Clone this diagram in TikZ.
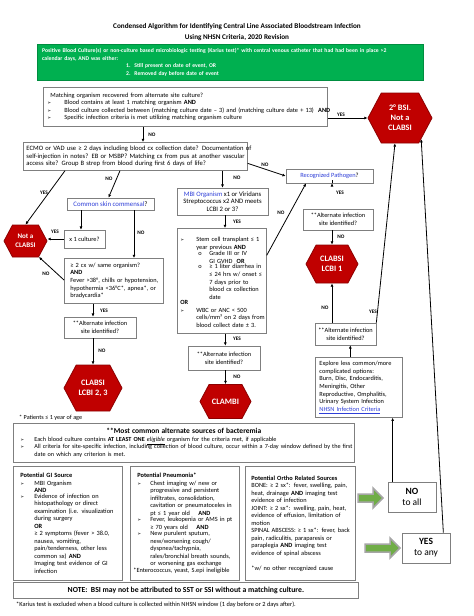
\documentclass[tikz,border=0pt]{standalone}
\usepackage{fontspec}
\setmainfont{Carlito}
\newfontfamily\dejavu{DejaVu Sans}
\usetikzlibrary{arrows.meta,shapes.symbols,calc}
\definecolor{gboxc}{HTML}{00B050}
\definecolor{hexred}{HTML}{C00000}
\definecolor{hexedge}{HTML}{8C0000}
\definecolor{bordc}{HTML}{7F7F7F}
\definecolor{linkblue}{HTML}{2F3FD8}
\definecolor{agreen}{HTML}{70AD47}
\definecolor{agray}{HTML}{A6A6A6}
\newcommand\fsA{\fontsize{6.35}{7.6}\selectfont}
\newcommand\bul{{\dejavu\fontsize{4.6}{5}\selectfont ➢}}
\newcommand\bit[2][14pt]{\par\noindent\makebox[#1][l]{\bul}\parbox[t]{\dimexpr\hsize-#1\relax}{\raggedright #2}\par}
\newcommand\sbit[1]{\par\noindent\hspace*{18pt}\makebox[11pt][l]{o}\parbox[t]{\dimexpr\hsize-29pt\relax}{\raggedright #1}\par}
\begin{document}
\begin{tikzpicture}[x=1pt,y=-1pt,
  bx/.style={draw=bordc, line width=0.7pt, fill=white, font=\fsA, anchor=north west, align=left, inner ysep=2pt},
  cbx/.style={draw=bordc, line width=0.7pt, fill=white, font=\fsA, align=center, inner sep=1pt},
  hx/.style={signal, signal to=west and east, signal pointer angle=124, fill=hexred, draw=hexedge, line width=0.8pt, text=white, font=\bfseries\fontsize{8.3}{10}\selectfont, align=center, inner sep=0pt},
  lbl/.style={font=\bfseries\fontsize{5.3}{6}\selectfont, inner sep=0pt},
  arr/.style={-{Latex[length=3.2pt,width=3pt]}, line width=0.8pt},
  blk/.style={fill=agreen, draw=agray, line width=1.5pt, line join=miter}]
\useasboundingbox (0,0) rectangle (474,616);

\node[font=\bfseries\fontsize{7.2}{11}\selectfont, align=center] (title) at (237,32.5)
 {Condensed Algorithm for Identifying Central Line Associated Bloodstream Infection\\Using NHSN Criteria, 2020 Revision};

\node[draw=gboxc!80!black, fill=gboxc, text=white, font=\bfseries\fontsize{5.7}{7.6}\selectfont, anchor=north west, align=left, minimum width=386pt, minimum height=36pt, text width=380pt, inner xsep=3pt] (gbox) at (37,44)
 {\mbox{\ Positive Blood Culture(s) or non-culture based microbiologic testing (Karius test)* with central venous catheter that had had been in place >2}\\
 \ calendar days, AND was either:\\
 \hspace*{86pt}1.\ \ Still present on date of event, OR\\
 \hspace*{86pt}2.\ \ Removed day before date of event};

\node[bx, minimum width=284pt, minimum height=39pt, text width=276pt, inner xsep=4pt] (q1) at (43,87)
 {\hspace*{3pt}Matching organism recovered from alternate site culture?
 \bit[17pt]{\hspace*{-14pt}\hspace*{14pt}Blood contains at least 1 matching organism \textbf{AND}}
 \bit[17pt]{\mbox{Blood culture collected between (matching culture date – 3) and (matching culture date + 13) \ \textbf{AND}}}
 \bit[17pt]{Specific infection criteria is met utilizing matching organism culture}};

\node[hx, minimum width=64pt, minimum height=50pt] (bsi) at (400,118) {2° BSI.\\Not a\\CLABSI};

\node[bx, minimum width=224pt, minimum height=28pt, text width=220pt, inner xsep=2pt, font=\fontsize{6.6}{7.6}\selectfont] (ecmo) at (23,142)
 {\mbox{\,ECMO or VAD use ≥ 2 days including blood cx collection date? Documentation of}\\
 \mbox{\,self-injection in notes? EB or MSBP? Matching cx from pus at another vascular}\\
 \,access site? Group B strep from blood during first 6 days of life?};

\node[cbx, minimum width=87pt, minimum height=14pt, font=\fontsize{6.4}{7.6}\selectfont] (rp) at (329.5,176) {\textcolor{linkblue}{Recognized Pathogen}?};
\node[cbx, minimum width=91pt, minimum height=27pt, font=\fontsize{6.7}{7.6}\selectfont] (mbi) at (222.5,201.5) {\textcolor{linkblue}{MBI Organism} x1 or Viridans\\Streptococcus x2 AND meets\\LCBI 2 or 3?};
\node[cbx, minimum width=87pt, minimum height=12pt, font=\fontsize{6.8}{7.6}\selectfont] (cs) at (110.5,204) {\textcolor{linkblue}{Common skin commensal}?};
\node[cbx, minimum width=41pt, minimum height=18pt] (x1) at (84.5,239) {x 1 culture?};
\node[hx, minimum width=43pt, minimum height=32pt, font=\bfseries\fontsize{7}{8.5}\selectfont] (notc) at (25.5,241) {Not a\\CLABSI};

\node[bx, minimum width=99pt, minimum height=45pt, text width=95pt, inner xsep=2pt] (cx2) at (64,258)
 {\hspace*{4pt}≥ 2 cx w/ same organism?\\ \hspace*{4pt}\textbf{AND}\\ \hspace*{4pt}\mbox{Fever >38°, chills or hypotension,}\\ \hspace*{4pt}hypothermia <36°C*, apnea*, or\\ \hspace*{4pt}bradycardia*};

\node[cbx, minimum width=72pt, minimum height=21pt] (alt1) at (100,327.5) {**Alternate infection\\site identified?};
\node[hx, minimum width=58pt, minimum height=46pt] (lcbi23) at (93,388) {CLABSI\\LCBI 2, 3};

\node[bx, minimum width=89pt, minimum height=105pt, text width=83pt, inner xsep=3pt] (stem) at (177,228)
 {\bit[16pt]{Stem cell transplant ≤ 1\\ year previous \textbf{AND}}
 \sbit{Grade III or IV\\ GI GVHD \ \textbf{OR}}
 \sbit{≥ 1 liter diarrhea in\\ ≤ 24 hrs w/ onset ≤\\ 7 days prior to\\ blood cx collection\\ date}
 \par\noindent\textbf{OR}
 \bit[16pt]{WBC or ANC < 500\\ \mbox{cells/mm³ on 2 days from}\\ blood collect date ± 3.}};

\node[cbx, minimum width=72pt, minimum height=24pt] (alt2) at (224,358) {**Alternate infection\\site identified?};
\node[hx, minimum width=51pt, minimum height=34pt] (clambi) at (225.5,401.5) {CLAMBI};

\node[cbx, minimum width=70pt, minimum height=21pt] (alt3) at (338,219.5) {**Alternate infection\\site identified?};
\node[hx, minimum width=52pt, minimum height=38pt] (lcbi1) at (332,264) {CLABSI\\LCBI 1};
\node[cbx, minimum width=61pt, minimum height=22pt] (alt4) at (345.5,334) {**Alternate infection\\site identified?};

\node[bx, minimum width=87pt, minimum height=60pt, text width=81pt, inner xsep=3pt] (expl) at (315,357)
 {\,Explore less common/more\\ \,complicated options:\\ \,Burn, Disc, Endocarditis,\\ \,Meningitis, Other\\ \,Reproductive, Omphalitis,\\ \,Urinary System Infection\\ \,\textcolor{linkblue}{\underline{NHSN Infection Criteria}}};

\node[font=\fontsize{6.2}{7}\selectfont, anchor=west, inner sep=0pt] (pat) at (19,418) {* Patients ≤ 1 year of age};

\node[bx, minimum width=341pt, minimum height=39pt, text width=337pt, inner xsep=2pt, font=\fontsize{6.2}{7.5}\selectfont] (srcs) at (13,423)
 {{\centering\bfseries\fontsize{7.5}{9}\selectfont **Most common alternate sources of bacteremia\par}
 \leftskip=5pt
 \bit[14pt]{Each blood culture contains \textbf{AT LEAST ONE} \underline{\textit{eligible}} organism for the criteria met, if applicable}
 \bit[14pt]{\mbox{All criteria for site-specific infection, including collection of blood culture, occur within a 7-day window defined by the first}\\ date on which any criterion is met.}};

\node[bx, minimum width=109pt, minimum height=114pt, text width=103pt, inner xsep=3pt, font=\fontsize{6.4}{7.5}\selectfont] (gi) at (13,466)
 {\leftskip=4pt \textbf{Potential GI Source}
 \bit[14pt]{MBI Organism\\ \textbf{AND}}
 \bit[14pt]{Evidence of infection on\\ histopathology or direct\\ \mbox{examination (i.e. visualization}\\ during surgery\\ \textbf{OR}\\ ≥ 2 symptoms (fever > 38.0,\\ nausea, vomiting,\\ pain/tenderness, other less\\ common sx) \textbf{AND}\\ Imaging test evidence of GI\\ infection}};

\node[bx, minimum width=109pt, minimum height=114pt, text width=103pt, inner xsep=3pt, font=\fontsize{6.35}{7.5}\selectfont] (pn) at (130,466)
 {\leftskip=4pt \textbf{Potential Pneumonia*}
 \bit[13pt]{Chest imaging w/ new or\\ progressive and persistent\\ infiltrates, consolidation,\\ \mbox{cavitation or pneumatoceles in}\\ pt ≤ 1 year old \quad \textbf{AND}}
 \bit[13pt]{\mbox{Fever, leukopenia or AMS in pt}\\ ≥ 70 years old \quad \textbf{AND}}
 \bit[13pt]{New purulent sputum,\\ new/worsening cough/\\ dyspnea/tachypnia,\\ \mbox{rales/bronchial breath sounds,}\\ or worsening gas exchange}
 \par\noindent\leftskip=3pt *Enterococcus, yeast, S.epi ineligible};

\node[bx, minimum width=110pt, minimum height=114pt, text width=104pt, inner xsep=3pt, font=\fontsize{6.35}{7.5}\selectfont] (orth) at (245,466)
 {\hspace*{3pt}\textbf{Potential Ortho Related Sources}\\
 \hspace*{3pt}\mbox{BONE: ≥ 2 sx*: fever, swelling, pain,}\\ \hspace*{3pt}heat, drainage \textbf{AND} imaging test\\ \hspace*{3pt}evidence of infection\\
 \hspace*{3pt}\mbox{JOINT: ≥ 2 sx*: swelling, pain, heat,}\\ \hspace*{3pt}evidence of effusion, limitation of\\ \hspace*{3pt}motion\\
 \hspace*{3pt}\mbox{SPINAL ABSCESS: ≥ 1 sx*: fever, back}\\ \hspace*{3pt}pain, radiculitis, paraparesis or\\ \hspace*{3pt}paraplegia \textbf{AND} imaging test\\ \hspace*{3pt}evidence of spinal abscess\\[7.5pt]
 \hspace*{3pt}*w/ no other recognized cause};

\path[blk] (358,494) -- (373,494) -- (373,488) -- (383,498) -- (373,508) -- (373,502) -- (358,502) -- cycle;
\path[blk] (365,544) -- (390,544) -- (390,538) -- (400,548) -- (390,558) -- (390,552) -- (365,552) -- cycle;

\node[cbx, minimum width=48pt, minimum height=30pt, font=\fontsize{9.5}{11}\selectfont] (noall) at (412,497) {\textbf{NO}\\to all};
\node[cbx, minimum width=48pt, minimum height=30pt, font=\fontsize{9.5}{11}\selectfont] (yesany) at (426,548) {\textbf{YES}\\to any};

\node[draw=bordc, line width=0.7pt, fill=white, minimum width=345pt, minimum height=16pt, anchor=north west, font=\bfseries\fontsize{7.7}{8}\selectfont] (note) at (13,582)
 {NOTE:\ \ BSI may not be attributed to SST or SSI without a matching culture.};
\node[font=\fontsize{6.35}{7}\selectfont, anchor=west, inner sep=0pt] (foot) at (16,605)
 {*Karius test is excluded when a blood culture is collected within NHSN window (1 day before or 2 days after).};

% connectors
\draw[arr] (q1.east |- bsi.west) -- (bsi.west);
\node[lbl] (l1) at (341,115) {YES};
\draw[arr] ([xshift=100pt]q1.south west) -- ([xshift=120pt]ecmo.north west);
\node[lbl] (l2) at (152,135) {NO};
\draw[arr] ([yshift=-7pt]ecmo.east) -- (rp.west);
\node[lbl] (l3) at (265,165) {NO};
\draw[arr] (ecmo.south -| mbi.north) -- (mbi.north);
\node[lbl] (l4) at (237,178) {NO};
\draw[arr] ([xshift=97pt]ecmo.south west) -- ([xshift=-2pt]cs.north);
\node[lbl] (l5) at (109,179) {NO};
\draw[arr] ([xshift=42pt]ecmo.south west) -- (notc.north);
\node[lbl] (l6) at (44,193) {YES};
\draw[arr] ([xshift=-29.5pt]cs.south) -- ([xshift=-29.5pt]cs.south |- x1.north);
\draw[arr] ([xshift=23.5pt]cs.south) -- ([xshift=23.5pt]cs.south |- cx2.north);
\node[lbl] (l7) at (141,233) {NO};
\draw[arr] (x1.west) -- (x1.west -| notc.east);
\node[lbl] (l8) at (55,232) {YES};
\draw[arr] ([yshift=-22pt]cx2.north west) -- (notc.-50);
\node[lbl] (l9) at (46,274) {NO};
\draw[arr] ([xshift=29pt]cx2.south west) -- ([xshift=29pt]cx2.south west |- alt1.north);
\node[lbl] (l10) at (104,311) {YES};
\draw[arr] (alt1.south -| lcbi23.north) -- (lcbi23.north);
\node[lbl] (l11) at (102,351) {NO};
\draw[arr] ([xshift=2.5pt]mbi.south) -- ([xshift=2.5pt]mbi.south |- stem.north);
\node[lbl] (l12) at (237,222) {YES};
\draw[arr] ([yshift=25.5pt]stem.east) -- ([xshift=-23.5pt]rp.south);
\node[lbl] (l13) at (281,213) {NO};
\draw[arr] ([xshift=3.5pt]stem.south) -- ([xshift=3.5pt]stem.south |- alt2.north);
\node[lbl] (l14) at (237,339) {YES};
\draw[arr] (alt2.south -| clambi.north) -- (clambi.north);
\node[lbl] (l15) at (237,377) {NO};
\draw[arr] (rp.south -| lcbi1.north) -- (rp.south -| lcbi1.north |- alt3.north);
\node[lbl] (l16) at (340,193) {YES};
\draw[arr] (alt3.south -| lcbi1.north) -- (lcbi1.north);
\node[lbl] (l17) at (341,237) {NO};
\draw[arr] (alt4.north -| lcbi1.south) -- (lcbi1.south);
\node[lbl] (l18) at (325,308) {NO};
\draw[arr] (alt4.north east) -- ([xshift=-5pt]bsi.south);
\node[lbl] (l19) at (373,312) {YES};
\draw[arr] ([xshift=-7pt]yesany.north east) -- (bsi.-45);
\draw[arr] ([xshift=-8.5pt]expl.north) -- ([xshift=-8.5pt]expl.north |- alt4.south);
\draw[arr] ([xshift=5pt]noall.north west) -- ([xshift=5pt]noall.north west |- expl.south);
\end{tikzpicture}
\end{document}
